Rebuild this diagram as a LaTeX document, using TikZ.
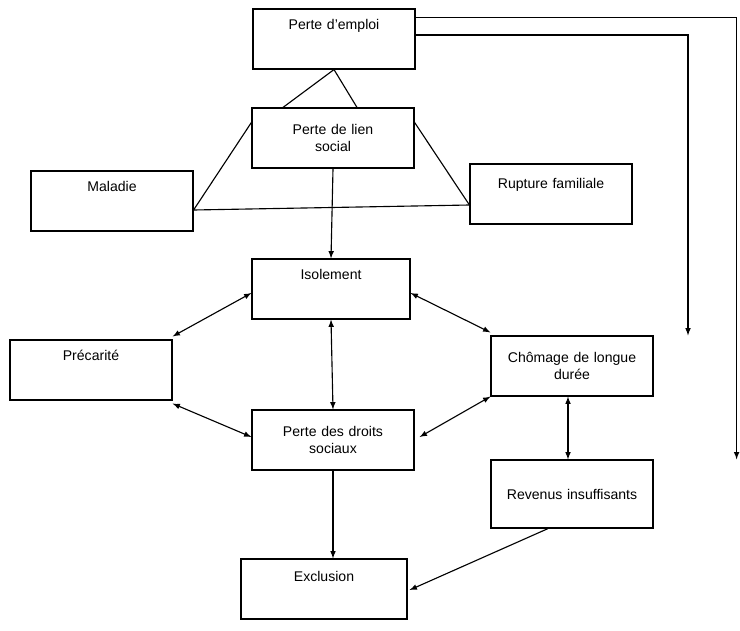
\documentclass[tikz,border=0pt]{standalone}
\usepackage{fontspec}
\setmainfont{Liberation Sans}
\usetikzlibrary{calc}
\tikzset{
    box/.style={draw, thick, align=center, minimum width=4.05cm, minimum height=1.5cm, text width=3.6cm, font=\normalsize},
    link/.style={thick},
    arr/.style={thick, -latex},
    darr/.style={thick, latex-latex}
}

\begin{document}
\begin{tikzpicture}[x=0.025cm, y=-0.025cm]
    \useasboundingbox (0,0) rectangle (740,630);

    % Boxes
    \node[box] (emploi) at (334,39) {Perte d'emploi\\[0.3cm]\mbox{}};
    \node[box] (lien) at (333,138) {Perte de lien\\social};
    \node[box] (maladie) at (112,201) {Maladie\\[0.3cm]\mbox{}};
    \node[box] (rupture) at (551,194) {Rupture familiale\\[0.1cm]\mbox{}};
    \node[box, minimum width=3.95cm] (isol) at (331,289) {Isolement\\[0.3cm]\mbox{}};
    \node[box] (prec) at (91,370) {Précarité\\[0.3cm]\mbox{}};
    \node[box] (chomage) at (572,366) {Chômage de longue\\durée};
    \node[box] (droits) at (333,440) {Perte des droits\\sociaux};
    \node[box, minimum height=1.7cm] (revenus) at (572,494) {Revenus insuffisants};
    \node[box, minimum width=4.15cm] (exclu) at (324,589) {Exclusion\\[0.2cm]\mbox{}};

    % Triangles
    \draw[link] (emploi.south) -- ($(lien.north)+(-50,0)$);
    \draw[link] (emploi.south) -- ($(lien.north)+(24,0)$);
    \draw[link] ($(lien.north west)+(0,15)$) -- ($(maladie.east)+(0,9)$);
    \draw[link] ($(lien.north east)+(0,15)$) -- ($(rupture.west)+(0,11)$);
    \draw[link] ($(maladie.east)+(0,9)$) -- ($(rupture.west)+(0,11)$);

    % Arrows
    \draw[arr] (lien.south) -- (isol.north);
    \draw[arr] ($(emploi.north east)+(0,9)$) -| ($(revenus.north east)+(83,0)$);
    \draw[arr] ($(emploi.east)+(0,-4)$) -| ($(chomage.north)+(116,0)$);
    \draw[darr] ($(isol.west)+(0,4)$) -- ($(prec.north east)+(0,-3)$);
    \draw[darr] (isol.south) -- (droits.north);
    \draw[darr] ($(isol.east)+(0,4)$) -- ($(chomage.north west)+(0,-3)$);
    \draw[darr] ($(prec.south east)+(0,3)$) -- ($(droits.west)+(0,-3)$);
    \draw[darr] (chomage.south west) -- ($(droits.east)+(5,-3)$);
    \draw[darr] ($(chomage.south)+(-4,0)$) -- ($(revenus.north)+(-4,0)$);
    \draw[arr] (droits.south) -- (droits.south |- exclu.north);
    \draw[arr] ($(revenus.south)+(-24,0)$) -- ($(exclu.east)+(2,1)$);
\end{tikzpicture}
\end{document}
